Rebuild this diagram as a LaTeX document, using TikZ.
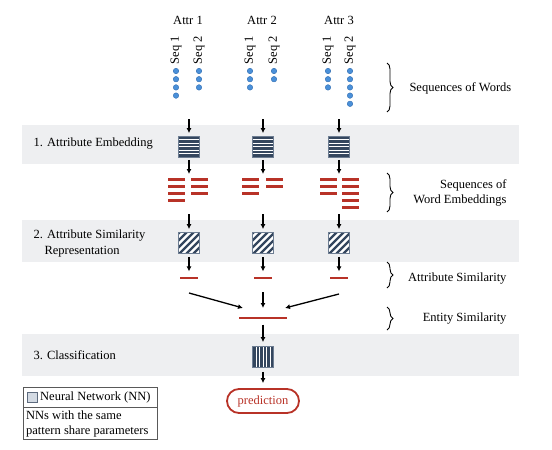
\documentclass[tikz,border=0pt]{standalone}
\usepackage{fontspec}
\setmainfont{Liberation Serif}
\usetikzlibrary{arrows.meta,calc,decorations.pathreplacing}

\definecolor{bandgray}{HTML}{EEEFF1}
\definecolor{simred}{HTML}{B83227}
\definecolor{nndark}{HTML}{34465E}
\definecolor{nnedge}{HTML}{6D7D92}
\definecolor{dotblue}{HTML}{4A90D9}
\definecolor{dotedge}{HTML}{2E6BB0}
\definecolor{nnlight}{HTML}{D3DAE3}

\tikzset{
  arr/.style={-{Latex[length=5pt,width=5pt]},line width=1.3pt},
  nn/.style={rectangle,draw=nnedge,line width=0.8pt,minimum size=21pt,inner sep=0pt},
  nnhoriz/.style={nn,path picture={
      \fill[nndark] (path picture bounding box.south west) rectangle (path picture bounding box.north east);
      \foreach \f in {1,...,5}
        \draw[white,line width=0.9pt]
          ($(path picture bounding box.south west)!\f/6!(path picture bounding box.north west)$) --
          ($(path picture bounding box.south east)!\f/6!(path picture bounding box.north east)$);
    }},
  nnvert/.style={nn,path picture={
      \fill[nndark] (path picture bounding box.south west) rectangle (path picture bounding box.north east);
      \foreach \f in {1,...,5}
        \draw[white,line width=0.9pt]
          ($(path picture bounding box.south west)!\f/6!(path picture bounding box.south east)$) --
          ($(path picture bounding box.north west)!\f/6!(path picture bounding box.north east)$);
    }},
  nndiag/.style={nn,path picture={
      \fill[white] (path picture bounding box.south west) rectangle (path picture bounding box.north east);
      \foreach \f in {-20,-13,...,20}
        \draw[nndark,line width=2.2pt]
          ($(path picture bounding box.south west)+(\f pt,0pt)$) -- ++(30pt,30pt);
    }},
  dot/.style={circle,fill=dotblue,draw=dotedge,line width=0.4pt,minimum size=5.5pt,inner sep=0pt},
  emb/.style={rectangle,fill=simred,minimum width=17.5pt,minimum height=2.8pt,inner sep=0pt},
  sim/.style={emb,minimum width=18pt},
  brace/.style={decorate,decoration={brace,amplitude=6pt},line width=0.9pt},
  pred/.style={rectangle,rounded corners=12pt,draw=simred,line width=1.8pt,text=simred,
    minimum width=72pt,minimum height=24pt,inner sep=2pt},
}

\begin{document}
\begin{tikzpicture}[x=1pt,y=-1pt,font=\fontsize{12.5}{16}\selectfont]
  \useasboundingbox (0,0) rectangle (552,450);

  % stage bands
  \fill[bandgray] (22,125) rectangle (519,164);
  \fill[bandgray] (22,220) rectangle (519,262);
  \fill[bandgray] (22,334) rectangle (519,376);

  \node[anchor=west] (stage1) at (30,144) {1. Attribute Embedding};
  \node[anchor=west,align=left] (stage2) at (30,243) {2. Attribute Similarity\\\hspace{11pt}Representation};
  \node[anchor=west] (stage3) at (30,355) {3. Classification};

  % attributes and their sequences
  \node (attr1) at (188,20) {Attr 1};
  \node (attr2) at (262,20) {Attr 2};
  \node (attr3) at (339,20) {Attr 3};

  \foreach \x/\n/\s in {176/4/1,199/3/2,250/3/1,274/2/2,328/3/1,350/5/2} {
    \node[rotate=90] (seq\x) at (\x,50) {Seq \s};
    \foreach \i in {1,...,\n} {
      \node[dot] (d\x-\i) at (\x,{71+(\i-1)*8.2}) {};
      \node[emb] (w\x-\i) at ({\x+0.5},{179.3+(\i-1)*7}) {};
    }
  }

  % per attribute networks
  \foreach \c/\x in {1/189,2/263,3/339} {
    \coordinate (top\c) at (\x,119);
    \node[nnhoriz] (embed\c) at (\x,146.5) {};
    \coordinate (wtop\c) at (\x,174);
    \coordinate (wbot\c) at (\x,214);
    \node[nndiag] (rep\c) at (\x,243) {};
    \node[sim] (sim\c) at (\x,278) {};
    \draw[arr,shorten >=2.5pt] (top\c) -- (embed\c);
    \draw[arr,shorten <=2.5pt] (embed\c) -- (wtop\c);
    \draw[arr,shorten >=3pt] (wbot\c) -- (rep\c);
    \draw[arr,shorten <=3pt,shorten >=5pt] (rep\c) -- (sim\c);
  }

  \node[sim,minimum width=48pt] (entity) at (263,318) {};
  \node[nnvert] (cls) at (263,357) {};
  \node[pred] (pred) at (263,401) {prediction};

  \draw[arr] ([yshift=-15pt]sim1.center) -- ([xshift=-20pt,yshift=10pt]entity.center);
  \draw[arr] ([yshift=-14pt]sim2.center) -- ([yshift=10pt]entity.center);
  \draw[arr] ([yshift=-16pt]sim3.center) -- ([xshift=22pt,yshift=10pt]entity.center);
  \draw[arr,shorten <=5pt,shorten >=4pt] (entity) -- (cls);
  \draw[arr,shorten <=4pt,shorten >=5pt] (cls) -- (pred);

  % braces
  \draw[brace] (387,63) -- (387,112);
  \node[anchor=west] (words) at (406,88) {Sequences of Words};
  \draw[brace] (387,173) -- (387,212);
  \node[anchor=east,align=right,font=\fontsize{12.5}{14.5}\selectfont] (wordemb) at (510,193) {Sequences of\\Word Embeddings};
  \draw[brace] (387,262) -- (387,288);
  \node[anchor=east] (attrsim) at (510,279) {Attribute Similarity};
  \draw[brace] (387,307) -- (387,330);
  \node[anchor=east] (entsim) at (510,319) {Entity Similarity};

  % legend
  \node[rectangle,draw=nndark!80,fill=nnlight,line width=0.6pt,minimum size=10pt,inner sep=0pt] (lgbox) at (32.5,397) {};
  \node[anchor=west,inner sep=1pt] (lgnn) at (39,397) {Neural Network (NN)};
  \node[anchor=west,align=left,inner sep=1pt,font=\fontsize{12.5}{15}\selectfont] (lgshare) at (25,423.5) {NNs with the same\\pattern share parameters};
  \draw[gray!70!black,line width=0.9pt] (23,387) rectangle (157,439);
  \draw[gray!70!black,line width=0.9pt] (23,407) -- (157,407);
\end{tikzpicture}
\end{document}
